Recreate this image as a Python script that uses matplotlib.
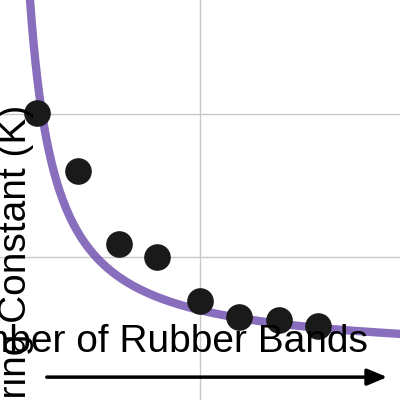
import matplotlib
matplotlib.use('Agg')
import matplotlib.pyplot as plt
import numpy as np

plt.rcParams['font.family'] = ['Liberation Sans', 'DejaVu Sans']

# Number of rubber bands vs spring constant
bands = [0.93, 1.95, 2.98, 3.93, 5.0, 5.98, 6.98, 7.95]
spring_k = [2.01, 1.60, 1.09, 1.00, 0.69, 0.58, 0.56, 0.52]

# Fitted curve K = a / (n + c) + b
fit_a, fit_c, fit_b = 1.607, -0.107, 0.30

fig = plt.figure(figsize=(4, 4), dpi=100)
ax = fig.add_axes([0, 0, 1, 1])
ax.set_xlim(0, 10)
ax.set_ylim(0, 400 / 143)
ax.set_xticks([5])
ax.set_yticks([1, 2])
ax.grid(True, color='#c8c8c8', linewidth=1)
ax.tick_params(length=0, labelbottom=False, labelleft=False)
for s in ax.spines.values():
    s.set_visible(False)

n = np.linspace(0.7, 10, 400)
ax.plot(n, fit_a / (n + fit_c) + fit_b, color='#6a4aad', alpha=0.8, linewidth=6, zorder=2)
ax.scatter(bands, spring_k, s=330, color='#1a1a1a', zorder=3)

ax.annotate('', xy=(9.75, 0.16), xytext=(1.1, 0.16),
            arrowprops=dict(arrowstyle='-|>,head_length=1.2,head_width=0.5', color='black', lw=2.5),
            zorder=4)

fig.text(368 / 400, 1 - 342 / 400, 'Number of Rubber Bands', fontsize=28,
         ha='right', va='center')
fig.text(16 / 400, 1 - 105 / 400, 'Spring Constant (K)', fontsize=28,
         rotation=90, ha='center', va='top')

plt.savefig('out.png', dpi=100)
plt.close(fig)
